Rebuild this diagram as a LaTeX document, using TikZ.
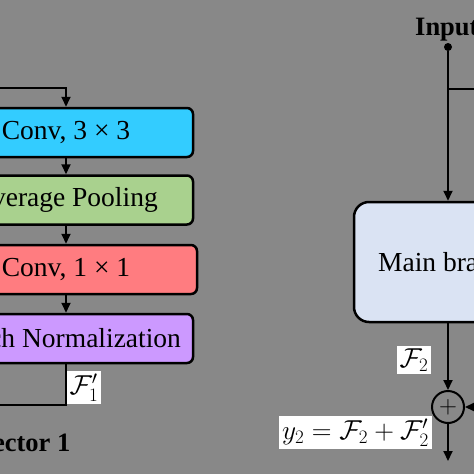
\documentclass[tikz,border=0pt]{standalone}
\usepackage{fontspec}
\setmainfont{Liberation Serif}
\usetikzlibrary{arrows.meta}
\definecolor{bg}{RGB}{136,136,136}
\definecolor{cy}{RGB}{51,204,255}
\definecolor{gr}{RGB}{169,209,142}
\definecolor{rd}{RGB}{255,124,128}
\definecolor{pu}{RGB}{204,153,255}
\definecolor{mb}{RGB}{218,227,243}
\begin{document}
\begin{tikzpicture}[x=1pt,y=-1pt,
  box/.style={draw=black, line width=2.5pt, rounded corners=6pt, minimum width=254pt, minimum height=49pt, inner sep=0pt, font=\fontsize{27.5}{32}\selectfont},
  conn/.style={line width=2pt, draw=black},
  arr/.style={conn, -{Triangle[length=10pt,width=9pt]}},
  lbl/.style={fill=white, inner sep=2.3pt, scale=1.1, transform shape, font=\fontsize{25}{30}\selectfont},
  ttl/.style={inner sep=0pt, font=\bfseries\fontsize{26.5}{32}\selectfont}
]
\useasboundingbox (0,0) rectangle (474,474);
\clip (0,0) rectangle (474,474);
\fill[bg] (0,0) rectangle (474,474);

% left column
\node[box, fill=cy] (c3) at (66,132.5) {Conv, 3 × 3};
\node[box, fill=gr] (ap) at (66,200) {Average Pooling};
\node[box, fill=rd, minimum width=262pt] (c1) at (66,269.5) {Conv, 1 × 1};
\node[box, fill=pu] (bn) at (66,338.5) {Batch Normalization};

\coordinate (inL) at (-10,88);
\draw[arr] (inL) -| (c3.north);
\draw[arr] (c3.south) -- (ap.north);
\draw[arr] (ap.south) -- (c1.north);
\draw[arr] (c1.south) -- (bn.north);
\coordinate (fbk) at (66,405);
\coordinate (fbkL) at (-10,405);
\draw[conn] (bn.south) -- (fbk) -- (fbkL);
\node[lbl] (f1) at (84,387.5) {$\mathcal{F}_1'$};
\node[ttl, anchor=base east] (det) at (70.5,451) {ector 1};

% right column
\node[ttl, anchor=base west] (inp) at (415,35) {Input};
\node[circle, fill=black, inner sep=0pt, minimum size=8pt] (dot) at (448,47) {};
\node[draw=black, line width=2.5pt, rounded corners=15pt, fill=mb, minimum width=188pt, minimum height=120pt, inner sep=0pt, font=\fontsize{27.5}{32}\selectfont] (main) at (448,262) {Main branch};
\draw[arr] (dot) -- (main.north);
\coordinate (br) at (448,89);
\coordinate (brR) at (490,89);
\draw[conn] (br) -- (brR);
\node[circle, draw=black, line width=2pt, minimum size=32pt, inner sep=0pt, font=\fontsize{25}{30}\selectfont] (plus) at (448,407) {$+$};
\draw[arr] (main.south) -- (plus.north);
\coordinate (pin) at (490,407);
\draw[arr] (pin) -- (plus.east);
\coordinate (pout) at (448,461);
\draw[arr] (plus.south) -- (pout);
\node[lbl] (f2) at (414,360) {$\mathcal{F}_2$};
\node[lbl] (y2) at (355.5,432.5) {$y_2=\mathcal{F}_2+\mathcal{F}_2'$};
\end{tikzpicture}
\end{document}
